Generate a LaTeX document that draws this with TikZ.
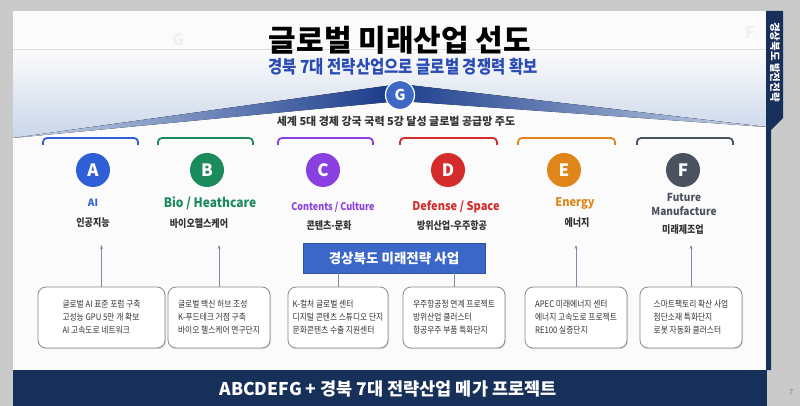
\documentclass[tikz,border=0pt]{standalone}
\usepackage{fontspec}
\setmainfont{Noto Sans CJK KR}
\newfontfamily\krn{Noto Sans CJK KR}[FakeStretch=0.86]
\newfontfamily\krm{Noto Sans CJK KR}[FakeStretch=0.92]
\usetikzlibrary{shadows,arrows.meta}
\definecolor{bggrey}{HTML}{CACACA}
\definecolor{slide}{HTML}{FBFBFB}
\definecolor{navy}{HTML}{17305A}
\definecolor{bandnavy}{HTML}{1B3C8C}
\definecolor{sky}{HTML}{C9D6EA}
\definecolor{gcol}{HTML}{3D68C4}
\definecolor{subblue}{HTML}{2A4CB4}
\definecolor{darktext}{HTML}{333333}
\definecolor{cA}{HTML}{2E5FD6}
\definecolor{cB}{HTML}{1B8A5C}
\definecolor{cC}{HTML}{8A3FE0}
\definecolor{cD}{HTML}{D42B2B}
\definecolor{cE}{HTML}{E0851A}
\definecolor{cF}{HTML}{4A5260}
\definecolor{boxblue}{HTML}{3B68C8}
\definecolor{boxgrey}{HTML}{8A8A8A}
\definecolor{conncol}{HTML}{7C8CA6}
\begin{document}
\begin{tikzpicture}[x=1pt,y=-1pt,
  letter/.style={circle,fill=#1,minimum size=34pt,inner sep=0pt,text=white,font=\bfseries\fontsize{17}{17}\selectfont},
  tabline/.style={draw=#1,line width=1.8pt,rounded corners=4pt},
  enlabel/.style={text=#1,font=\bfseries\krm\fontsize{11}{12}\selectfont,inner sep=0pt,align=center},
  krlabel/.style={text=darktext,font=\bfseries\krn\fontsize{10.5}{12}\selectfont,inner sep=0pt},
  projbox/.style={draw=boxgrey,line width=0.8pt,rounded corners=8pt,fill=white,
    drop shadow={opacity=0.25,shadow xshift=1pt,shadow yshift=-1.2pt},
    minimum height=61pt,align=left,text=darktext,inner sep=2pt,
    font=\krn\fontsize{9}{13}\selectfont},
  conn/.style={draw=conncol,line width=0.7pt},
  arr/.style={conn,-{Stealth[length=4pt,width=3pt]}}
]
\useasboundingbox (0,0) rectangle (800,406);
% background and slide
\fill[bggrey] (0,0) rectangle (800,406);
\fill[slide] (13,11) rectangle (767,370);
% sky gradient and swoosh
\fill[top color=slide,bottom color=sky] (13,50) -- (767,50) -- (767,127) -- (400,84) -- (13,138) -- cycle;
\fill[left color=sky,right color=sky,middle color=bandnavy] (13,138) -- (400,84) -- (767,127) -- (400,101) -- cycle;
% ghost letters
\node[text=gray!12,font=\bfseries\fontsize{16}{16}\selectfont] (ghostG) at (178,40) {G};
\node[text=gray!12,font=\bfseries\fontsize{16}{16}\selectfont] (ghostF) at (750,33) {F};
% title
\node[font=\bfseries\fontsize{30}{30}\selectfont,text=black] (title) at (400,40) {글로벌 미래산업 선도};
\node[font=\bfseries\krn\fontsize{18}{18}\selectfont,text=subblue] (subtitle) at (403,67) {경북 7대 전략산업으로 글로벌 경쟁력 확보};
% G
\node[circle,fill=gcol,draw=white,line width=1.2pt,minimum size=29pt,inner sep=0pt,text=white,font=\bfseries\fontsize{15}{15}\selectfont] (G) at (400,95) {G};
\node[font=\bfseries\fontsize{11}{11}\selectfont,text=darktext] (gtext) at (396,121) {세계 5대 경제 강국 국력 5강 달성 글로벌 공급망 주도};
% tabs
\draw[tabline=cA] (43,145) -- (43,138) -- (138,138) -- (138,145);
\draw[tabline=cB] (158,145) -- (158,138) -- (253,138) -- (253,145);
\draw[tabline=cC] (278,145) -- (278,138) -- (373,138) -- (373,145);
\draw[tabline=cD] (400,145) -- (400,138) -- (497,138) -- (497,145);
\draw[tabline=cE] (518,145) -- (518,138) -- (615,138) -- (615,145);
\draw[tabline=cF] (637,145) -- (637,138) -- (733,138) -- (733,145);
% circles
\node[letter=cA] (A) at (93,170) {A};
\node[letter=cB] (B) at (207,170) {B};
\node[letter=cC] (C) at (323,170) {C};
\node[letter=cD] (D) at (448,170) {D};
\node[letter=cE] (E) at (564,170) {E};
\node[letter=cF] (F) at (683,170) {F};
% english labels
\node[enlabel=cA,font=\bfseries\fontsize{10}{12}\selectfont] (Aen) at (93,203) {AI};
\node[enlabel=cB,font=\bfseries\krm\fontsize{13}{14}\selectfont] (Ben) at (210,203) {Bio / Heathcare};
\node[enlabel=cC,font=\bfseries\krn\fontsize{10.5}{12}\selectfont] (Cen) at (333,207) {Contents / Culture};
\node[enlabel=cD,font=\bfseries\krm\fontsize{12}{13}\selectfont] (Den) at (456,207) {Defense / Space};
\node[enlabel=cE,font=\bfseries\krm\fontsize{12}{13}\selectfont] (Een) at (575,203) {Energy};
\node[enlabel=cF,font=\bfseries\krm\fontsize{11}{14}\selectfont] (Fen) at (684,204) {Future\\Manufacture};
% korean labels
\node[krlabel] (Akr) at (93,223) {인공지능};
\node[krlabel] (Bkr) at (199,224) {바이오헬스케어};
\node[krlabel] (Ckr) at (329,226) {콘텐츠-문화};
\node[krlabel] (Dkr) at (452,226) {방위산업-우주항공};
\node[krlabel] (Ekr) at (577,223) {에너지};
\node[krlabel] (Fkr) at (683,230) {미래제조업};
% center box
\node[fill=boxblue,draw=boxblue!80!black,line width=0.6pt,minimum width=182pt,minimum height=30pt,text=white,font=\bfseries\fontsize{13.5}{13.5}\selectfont] (strat) at (394,258) {경상북도 미래전략 사업};
% project boxes
\node[projbox,minimum width=127pt] (Ab) at (101.5,317.5) {글로벌 AI 표준 포럼 구축\\고성능 GPU 5만 개 확보\\AI 고속도로 네트워크};
\node[projbox,minimum width=102pt] (Bb) at (219,317.5) {글로벌 백신 허브 조성\\K-푸드테크 거점 구축\\바이오 헬스케어 연구단지};
\node[projbox,minimum width=100pt] (Cb) at (338,317.5) {K-컬처 글로벌 센터\\디지털 콘텐츠 스튜디오 단지\\문화콘텐츠 수출 지원센터};
\node[projbox,minimum width=102pt] (Db) at (454,317.5) {우주항공청 연계 프로젝트\\방위산업 클러스터\\항공우주 부품 특화단지};
\node[projbox,minimum width=102pt] (Eb) at (576,317.5) {APEC 미래에너지 센터\\에너지 고속도로 프로젝트\\RE100 실증단지};
\node[projbox,minimum width=102pt] (Fb) at (691,317.5) {스마트팩토리 확산 사업\\첨단소재 특화단지\\로봇 자동화 클러스터};
% connectors
\coordinate (Aa) at (101.5,245);
\coordinate (Ba) at (219,245);
\coordinate (Ea) at (576,245);
\coordinate (Fa) at (691,245);
\draw[arr] (Ab.north) -- (Aa);
\draw[arr] (Bb.north) -- (Ba);
\draw[arr] (Eb.north) -- (Ea);
\draw[arr] (Fb.north) -- (Fa);
\draw[conn] (strat.south -| Cb.north) -- (Cb.north);
\draw[conn] (strat.south -| Db.north) -- (Db.north);
% bottom bar
\fill[navy] (13,370) rectangle (767,406);
\node[text=white,font=\bfseries\fontsize{17.5}{17.5}\selectfont] (bottom) at (388,389) {ABCDEFG + 경북 7대 전략산업 메가 프로젝트};
% right tab
\fill[navy] (766,11) -- (783,11) -- (783,118) -- (771,130) -- (771,370) -- (766,370) -- cycle;
\node[rotate=-90,text=white,font=\bfseries\fontsize{10.5}{10.5}\selectfont] (tab) at (775,62) {경상북도 발전전략};
\node[text=gray,font=\fontsize{8}{8}\selectfont] (pg) at (791,393) {7};
\end{tikzpicture}
\end{document}
